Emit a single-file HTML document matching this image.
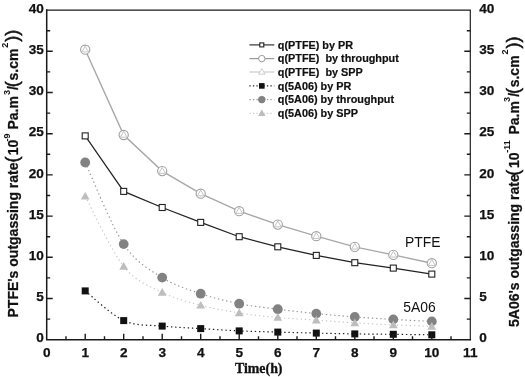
<!DOCTYPE html><html><head><meta charset="utf-8"><title>Outgassing rate</title>
<style>html,body{margin:0;padding:0;background:#fff}svg{display:block}text{font-family:"Liberation Sans",Arial,sans-serif}.b{font-weight:bold}.tk{font-weight:bold;font-size:13.6px;fill:#111;stroke:#111;stroke-width:.25px}.lg{font-weight:bold;font-size:10.85px;fill:#111;stroke:#111;stroke-width:.2px}.ax{font-weight:bold;font-size:14px;fill:#111;stroke:#111;stroke-width:.25px}.sup{font-weight:bold;font-size:9px;fill:#111}.pr{font-weight:normal;font-size:18px;fill:#111;stroke:#111;stroke-width:.55px}</style></head><body>
<svg width="525" height="377" viewBox="0 0 525 377">
<rect width="525" height="377" fill="#fff"/>
<path d="M85.2 290.9 C91.6 295.9 110.9 314.7 123.7 320.6 C136.6 326.4 149.4 324.8 162.2 326.1 C175.1 327.4 187.9 327.8 200.7 328.6 C213.6 329.4 226.4 330.3 239.2 330.9 C252.1 331.5 264.9 331.7 277.8 332.1 C290.6 332.5 303.4 332.8 316.3 333.1 C329.1 333.4 341.9 333.7 354.8 333.9 C367.6 334.1 380.4 334.2 393.3 334.3 C406.1 334.5 425.4 334.7 431.8 334.8" fill="none" stroke="#222" stroke-width="1.2" stroke-dasharray="1.4 2.8"/>
<path d="M85.2 162.5 C91.6 176.1 110.9 224.9 123.7 244.1 C136.6 263.3 149.4 269.3 162.2 277.6 C175.1 285.8 187.9 289.4 200.7 293.7 C213.6 298.1 226.4 301.1 239.2 303.7 C252.1 306.3 264.9 307.6 277.8 309.2 C290.6 310.9 303.4 312.3 316.3 313.6 C329.1 314.9 341.9 315.9 354.8 316.9 C367.6 317.9 380.4 318.7 393.3 319.4 C406.1 320.2 425.4 321.1 431.8 321.4" fill="none" stroke="#999" stroke-width="1.2" stroke-dasharray="1.4 2.8"/>
<path d="M85.2 196.3 C91.6 208.0 110.9 250.4 123.7 266.4 C136.6 282.4 149.4 285.9 162.2 292.4 C175.1 298.9 187.9 301.8 200.7 305.3 C213.6 308.7 226.4 310.9 239.2 312.9 C252.1 315.0 264.9 316.3 277.8 317.5 C290.6 318.6 303.4 319.2 316.3 320.1 C329.1 321.0 341.9 322.1 354.8 322.9 C367.6 323.7 380.4 324.3 393.3 324.9 C406.1 325.4 425.4 326.1 431.8 326.4" fill="none" stroke="#ccc" stroke-width="1.2" stroke-dasharray="1.4 2.8"/>
<path d="M85.2 135.9 L123.7 191.4 L162.2 207.5 L200.7 222.4 L239.2 236.7 L277.8 246.8 L316.3 255.4 L354.8 262.7 L393.3 268.1 L431.8 274.1" fill="none" stroke="#222" stroke-width="1.2"/>
<path d="M85.2 49.7 L123.7 135.0 L162.2 171.1 L200.7 193.7 L239.2 211.2 L277.8 224.6 L316.3 236.2 L354.8 246.9 L393.3 254.9 L431.8 263.2" fill="none" stroke="#a8a8a8" stroke-width="1.4"/>
<rect x="82.2" y="132.9" width="6" height="6" fill="#fff" stroke="#222" stroke-width="1.1"/>
<rect x="120.7" y="188.4" width="6" height="6" fill="#fff" stroke="#222" stroke-width="1.1"/>
<rect x="159.2" y="204.5" width="6" height="6" fill="#fff" stroke="#222" stroke-width="1.1"/>
<rect x="197.7" y="219.4" width="6" height="6" fill="#fff" stroke="#222" stroke-width="1.1"/>
<rect x="236.2" y="233.7" width="6" height="6" fill="#fff" stroke="#222" stroke-width="1.1"/>
<rect x="274.8" y="243.8" width="6" height="6" fill="#fff" stroke="#222" stroke-width="1.1"/>
<rect x="313.3" y="252.4" width="6" height="6" fill="#fff" stroke="#222" stroke-width="1.1"/>
<rect x="351.8" y="259.7" width="6" height="6" fill="#fff" stroke="#222" stroke-width="1.1"/>
<rect x="390.3" y="265.1" width="6" height="6" fill="#fff" stroke="#222" stroke-width="1.1"/>
<rect x="428.8" y="271.1" width="6" height="6" fill="#fff" stroke="#222" stroke-width="1.1"/>
<rect x="81.7" y="287.4" width="7" height="7" fill="#111"/>
<rect x="120.2" y="317.1" width="7" height="7" fill="#111"/>
<rect x="158.7" y="322.6" width="7" height="7" fill="#111"/>
<rect x="197.2" y="325.1" width="7" height="7" fill="#111"/>
<rect x="235.7" y="327.4" width="7" height="7" fill="#111"/>
<rect x="274.3" y="328.6" width="7" height="7" fill="#111"/>
<rect x="312.8" y="329.6" width="7" height="7" fill="#111"/>
<rect x="351.3" y="330.4" width="7" height="7" fill="#111"/>
<rect x="389.8" y="330.8" width="7" height="7" fill="#111"/>
<rect x="428.3" y="331.3" width="7" height="7" fill="#111"/>
<circle cx="85.2" cy="162.5" r="4.9" fill="#828282"/>
<circle cx="123.7" cy="244.1" r="4.9" fill="#828282"/>
<circle cx="162.2" cy="277.6" r="4.9" fill="#828282"/>
<circle cx="200.7" cy="293.7" r="4.9" fill="#828282"/>
<circle cx="239.2" cy="303.7" r="4.9" fill="#828282"/>
<circle cx="277.8" cy="309.2" r="4.9" fill="#828282"/>
<circle cx="316.3" cy="313.6" r="4.9" fill="#828282"/>
<circle cx="354.8" cy="316.9" r="4.9" fill="#828282"/>
<circle cx="393.3" cy="319.4" r="4.9" fill="#828282"/>
<circle cx="431.8" cy="321.4" r="4.9" fill="#828282"/>
<path d="M85.2 191.9 L89.6 199.6 L80.8 199.6 Z" fill="#bdbdbd"/>
<path d="M123.7 262.0 L128.1 269.7 L119.3 269.7 Z" fill="#bdbdbd"/>
<path d="M162.2 288.0 L166.6 295.7 L157.8 295.7 Z" fill="#bdbdbd"/>
<path d="M200.7 300.9 L205.1 308.6 L196.3 308.6 Z" fill="#bdbdbd"/>
<path d="M239.2 308.5 L243.6 316.2 L234.8 316.2 Z" fill="#bdbdbd"/>
<path d="M277.8 313.1 L282.2 320.8 L273.4 320.8 Z" fill="#bdbdbd"/>
<path d="M316.3 315.7 L320.7 323.4 L311.9 323.4 Z" fill="#bdbdbd"/>
<path d="M354.8 318.5 L359.2 326.2 L350.4 326.2 Z" fill="#bdbdbd"/>
<path d="M393.3 320.5 L397.7 328.2 L388.9 328.2 Z" fill="#bdbdbd"/>
<path d="M431.8 322.0 L436.2 329.7 L427.4 329.7 Z" fill="#bdbdbd"/>
<circle cx="85.2" cy="49.7" r="4.6" fill="#fff" stroke="#a0a0a0" stroke-width="1.1"/>
<path d="M85.2 46.1 L88.6 51.9 L81.8 51.9 Z" fill="#fff" stroke="#c4c4c4" stroke-width="1"/>
<circle cx="123.7" cy="135.0" r="4.6" fill="#fff" stroke="#a0a0a0" stroke-width="1.1"/>
<path d="M123.7 131.4 L127.1 137.2 L120.3 137.2 Z" fill="#fff" stroke="#c4c4c4" stroke-width="1"/>
<circle cx="162.2" cy="171.1" r="4.6" fill="#fff" stroke="#a0a0a0" stroke-width="1.1"/>
<path d="M162.2 167.5 L165.6 173.3 L158.8 173.3 Z" fill="#fff" stroke="#c4c4c4" stroke-width="1"/>
<circle cx="200.7" cy="193.7" r="4.6" fill="#fff" stroke="#a0a0a0" stroke-width="1.1"/>
<path d="M200.7 190.1 L204.1 195.9 L197.3 195.9 Z" fill="#fff" stroke="#c4c4c4" stroke-width="1"/>
<circle cx="239.2" cy="211.2" r="4.6" fill="#fff" stroke="#a0a0a0" stroke-width="1.1"/>
<path d="M239.2 207.6 L242.6 213.4 L235.8 213.4 Z" fill="#fff" stroke="#c4c4c4" stroke-width="1"/>
<circle cx="277.8" cy="224.6" r="4.6" fill="#fff" stroke="#a0a0a0" stroke-width="1.1"/>
<path d="M277.8 221.0 L281.2 226.8 L274.4 226.8 Z" fill="#fff" stroke="#c4c4c4" stroke-width="1"/>
<circle cx="316.3" cy="236.2" r="4.6" fill="#fff" stroke="#a0a0a0" stroke-width="1.1"/>
<path d="M316.3 232.6 L319.7 238.4 L312.9 238.4 Z" fill="#fff" stroke="#c4c4c4" stroke-width="1"/>
<circle cx="354.8" cy="246.9" r="4.6" fill="#fff" stroke="#a0a0a0" stroke-width="1.1"/>
<path d="M354.8 243.3 L358.2 249.1 L351.4 249.1 Z" fill="#fff" stroke="#c4c4c4" stroke-width="1"/>
<circle cx="393.3" cy="254.9" r="4.6" fill="#fff" stroke="#a0a0a0" stroke-width="1.1"/>
<path d="M393.3 251.3 L396.7 257.1 L389.9 257.1 Z" fill="#fff" stroke="#c4c4c4" stroke-width="1"/>
<circle cx="431.8" cy="263.2" r="4.6" fill="#fff" stroke="#a0a0a0" stroke-width="1.1"/>
<path d="M431.8 259.6 L435.2 265.4 L428.4 265.4 Z" fill="#fff" stroke="#c4c4c4" stroke-width="1"/>
<path d="M46.7 10.1 V339.7 H470.3" fill="none" stroke="#1a1a1a" stroke-width="1.5" stroke-linecap="square"/>
<path d="M46.7 10.1 H470.3 V339.7" fill="none" stroke="#1a1a1a" stroke-width="1.15" stroke-linecap="square"/>
<path d="M66.0 339.7 v-3.5 M85.2 339.7 v-6.0 M104.5 339.7 v-3.5 M123.7 339.7 v-6.0 M143.0 339.7 v-3.5 M162.2 339.7 v-6.0 M181.5 339.7 v-3.5 M200.7 339.7 v-6.0 M220.0 339.7 v-3.5 M239.2 339.7 v-6.0 M258.5 339.7 v-3.5 M277.8 339.7 v-6.0 M297.0 339.7 v-3.5 M316.3 339.7 v-6.0 M335.5 339.7 v-3.5 M354.8 339.7 v-6.0 M374.0 339.7 v-3.5 M393.3 339.7 v-6.0 M412.5 339.7 v-3.5 M431.8 339.7 v-6.0 M451.0 339.7 v-3.5 M46.7 319.1 h3.5 M470.3 319.1 h-3.5 M46.7 298.5 h6.0 M470.3 298.5 h-6.0 M46.7 277.9 h3.5 M470.3 277.9 h-3.5 M46.7 257.3 h6.0 M470.3 257.3 h-6.0 M46.7 236.7 h3.5 M470.3 236.7 h-3.5 M46.7 216.1 h6.0 M470.3 216.1 h-6.0 M46.7 195.5 h3.5 M470.3 195.5 h-3.5 M46.7 174.9 h6.0 M470.3 174.9 h-6.0 M46.7 154.3 h3.5 M470.3 154.3 h-3.5 M46.7 133.7 h6.0 M470.3 133.7 h-6.0 M46.7 113.1 h3.5 M470.3 113.1 h-3.5 M46.7 92.5 h6.0 M470.3 92.5 h-6.0 M46.7 71.9 h3.5 M470.3 71.9 h-3.5 M46.7 51.3 h6.0 M470.3 51.3 h-6.0 M46.7 30.7 h3.5 M470.3 30.7 h-3.5" stroke="#1a1a1a" stroke-width="1.4" fill="none"/>
<text class="tk" x="46.7" y="356.5" text-anchor="middle">0</text>
<text class="tk" x="85.2" y="356.5" text-anchor="middle">1</text>
<text class="tk" x="123.7" y="356.5" text-anchor="middle">2</text>
<text class="tk" x="162.2" y="356.5" text-anchor="middle">3</text>
<text class="tk" x="200.7" y="356.5" text-anchor="middle">4</text>
<text class="tk" x="239.2" y="356.5" text-anchor="middle">5</text>
<text class="tk" x="277.8" y="356.5" text-anchor="middle">6</text>
<text class="tk" x="316.3" y="356.5" text-anchor="middle">7</text>
<text class="tk" x="354.8" y="356.5" text-anchor="middle">8</text>
<text class="tk" x="393.3" y="356.5" text-anchor="middle">9</text>
<text class="tk" x="431.8" y="356.5" text-anchor="middle">10</text>
<text class="tk" x="470.3" y="356.5" text-anchor="middle">11</text>
<text class="tk" x="43.9" y="342.4" text-anchor="end">0</text>
<text class="tk" x="479.3" y="342.4">0</text>
<text class="tk" x="43.9" y="301.2" text-anchor="end">5</text>
<text class="tk" x="479.3" y="301.2">5</text>
<text class="tk" x="43.9" y="260.0" text-anchor="end">10</text>
<text class="tk" x="479.3" y="260.0">10</text>
<text class="tk" x="43.9" y="218.8" text-anchor="end">15</text>
<text class="tk" x="479.3" y="218.8">15</text>
<text class="tk" x="43.9" y="177.6" text-anchor="end">20</text>
<text class="tk" x="479.3" y="177.6">20</text>
<text class="tk" x="43.9" y="136.4" text-anchor="end">25</text>
<text class="tk" x="479.3" y="136.4">25</text>
<text class="tk" x="43.9" y="95.2" text-anchor="end">30</text>
<text class="tk" x="479.3" y="95.2">30</text>
<text class="tk" x="43.9" y="54.0" text-anchor="end">35</text>
<text class="tk" x="479.3" y="54.0">35</text>
<text class="tk" x="43.9" y="12.8" text-anchor="end">40</text>
<text class="tk" x="479.3" y="12.8">40</text>
<g transform="translate(18.1 317.5) rotate(-90)">
<text class="ax" x="0.0" y="0.0">PTFE's outgassing rate</text>
<text class="pr" x="155.0" y="0.0">(</text>
<text class="ax" x="162.3" y="0.0">10</text>
<text class="sup" x="176.1" y="-8.5">-9</text>
<text class="ax" x="187.9" y="0.0">Pa.m</text>
<text class="sup" x="222.4" y="-8.5">3</text>
<text class="ax" x="227.5" y="0.0">/</text>
<text class="pr" x="230.3" y="0.0">(</text>
<text class="ax" x="237.0" y="0.0">s.cm</text>
<text class="sup" x="269.8" y="-10.3">2</text>
<text class="pr" x="275.7" y="0.0">))</text>
</g>
<g transform="translate(518.5 327.0) rotate(-90)">
<text class="ax" x="0.0" y="0.0">5A06's outgassing rate</text>
<text class="pr" x="151.2" y="0.0">(</text>
<text class="ax" x="159.0" y="0.0">10</text>
<text class="sup" x="174.3" y="-8.5">-11</text>
<text class="ax" x="192.5" y="0.0">Pa.m</text>
<text class="sup" x="225.1" y="-8.5">3</text>
<text class="ax" x="230.2" y="0.0">/</text>
<text class="pr" x="233.0" y="0.0">(</text>
<text class="ax" x="239.7" y="0.0">s.cm</text>
<text class="sup" x="272.5" y="-10.3">2</text>
<text class="pr" x="278.4" y="0.0">))</text>
</g>
<text x="258.7" y="373.4" text-anchor="middle" style="font-family:'Liberation Serif',serif;font-weight:bold;font-size:13.9px;fill:#111;stroke:#111;stroke-width:.3px">Time(h)</text>
<text x="405.0" y="246.5" style="font-size:13.9px;fill:#111">PTFE</text>
<text x="403.2" y="311.8" style="font-size:13.9px;fill:#111">5A06</text>
<path d="M249.4 44.9 H274.3" stroke="#333" stroke-width="1.2" fill="none"/>
<text class="lg" x="277.8" y="48.7" xml:space="preserve">q(PTFE) by PR</text>
<path d="M249.4 58.6 H274.3" stroke="#999" stroke-width="1.2" fill="none"/>
<text class="lg" x="277.8" y="62.4" xml:space="preserve">q(PTFE)  by throughput</text>
<path d="M249.4 72.0 H274.3" stroke="#ccc" stroke-width="1.2" fill="none"/>
<text class="lg" x="277.8" y="75.8" xml:space="preserve">q(PTFE)  by SPP</text>
<path d="M249.4 85.9 H274.3" stroke="#222" stroke-width="1.2" stroke-dasharray="1.3 2.2" fill="none"/>
<text class="lg" x="277.8" y="89.7" xml:space="preserve">q(5A06) by PR</text>
<path d="M249.4 99.6 H274.3" stroke="#999" stroke-width="1.2" stroke-dasharray="1.3 2.2" fill="none"/>
<text class="lg" x="277.8" y="103.4" xml:space="preserve">q(5A06) by throughput</text>
<path d="M249.4 113.4 H274.3" stroke="#ccc" stroke-width="1.2" stroke-dasharray="1.3 2.2" fill="none"/>
<text class="lg" x="277.8" y="117.2" xml:space="preserve">q(5A06) by SPP</text>
<rect x="259.8" y="42.9" width="4" height="4" fill="#fff" stroke="#222" stroke-width="1.1"/>
<circle cx="261.8" cy="58.6" r="3.2" fill="#fff" stroke="#999" stroke-width="1"/>
<path d="M261.8 68.6 L265.0 74.2 L258.6 74.2 Z" fill="#fff" stroke="#ccc" stroke-width="1"/>
<rect x="259.0" y="83.1" width="5.6" height="5.6" fill="#111"/>
<circle cx="261.8" cy="99.6" r="3.7" fill="#828282"/>
<path d="M261.8 109.6 L265.6 116.0 L258.0 116.0 Z" fill="#bdbdbd"/>
</svg></body></html>
